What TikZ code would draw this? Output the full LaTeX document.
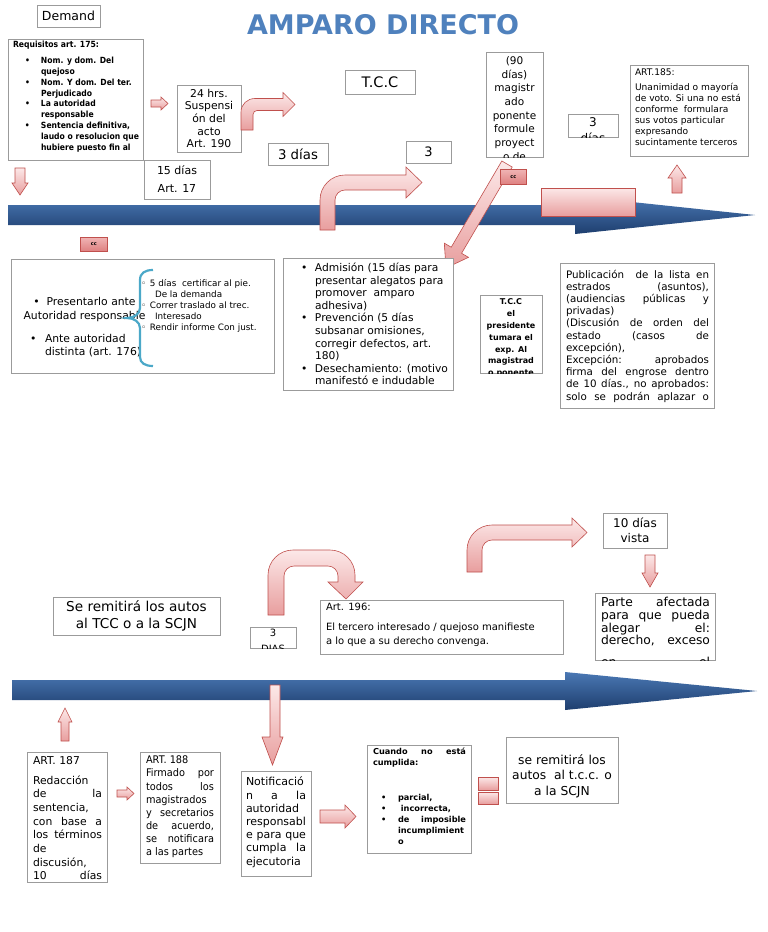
\documentclass[tikz,border=0pt]{standalone}
\usepackage{fontspec}
\setmainfont{DejaVu Sans}
\newfontfamily\condf{DejaVu Sans}[FakeStretch=0.9]
\newfontfamily\semif{DejaVu Sans}[FakeStretch=0.93]
\newcommand\fs[2]{\fontsize{#1}{#2}\selectfont}
\newcommand\jl[2][143pt]{\makebox[#1][s]{#2}}
\newcommand\bl[1]{\makebox[#1][l]{•}}
\newcommand\cl[1]{\makebox[#1][l]{◦}}
\definecolor{tblue}{RGB}{79,129,189}
\definecolor{pborder}{RGB}{192,80,77}
\definecolor{plight}{RGB}{252,232,232}
\definecolor{pdark}{RGB}{232,158,158}
\definecolor{cctop}{RGB}{240,180,180}
\definecolor{ccbot}{RGB}{222,128,128}
\definecolor{bgrey}{RGB}{155,155,155}
\definecolor{bracec}{RGB}{75,168,200}
\definecolor{tltop}{RGB}{74,120,180}
\definecolor{tlbot}{RGB}{30,62,110}
\begin{document}
\begin{tikzpicture}[x=1pt,y=-1pt,
  box/.style={draw=bgrey,line width=0.8pt,fill=white,inner sep=0pt,outer sep=0pt,anchor=north west},
  txt/.style={inner sep=0pt,outer sep=0pt},
  parrow/.style={draw=pborder,line width=0.6pt,top color=plight,bottom color=pdark},
  ccbox/.style={draw=pborder,line width=0.6pt,top color=cctop,bottom color=ccbot,inner sep=0pt,anchor=north west,font=\bfseries\fs{5}{6}},
  tl/.style={top color=tltop,bottom color=tlbot}]
\useasboundingbox (0,0) rectangle (768,932);
\fill[white] (0,0) rectangle (768,932);

% title
\node[txt,font=\bfseries\fs{27}{30},text=tblue] (title) at (383,25) {AMPARO DIRECTO};

% timelines
\path[tl] (8,205) -- (575,205) -- (575,196) -- (755,215) -- (575,234) -- (575,225) -- (8,225) -- cycle;
\path[tl] (12,680) -- (565,680) -- (565,672) -- (757,691) -- (565,710) -- (565,700) -- (12,700) -- cycle;

% ---------- upper section ----------
\node[box,minimum width=63,minimum height=22,font=\fs{12.5}{15}] (demand) at (37,5) {Demand};

\node[box,minimum width=135,minimum height=121] (req) at (8,39) {};
\begin{scope}
\clip (req.north west) rectangle (req.south east);
\node[txt,anchor=north west,align=left,font=\condf\bfseries\fs{8.5}{10.9}] (reqt) at (13,41.5) {Requisitos art. 175:\\[4.5pt]
\hspace*{12pt}\bl{16pt}Nom. y dom. Del\\
\hspace*{28pt}quejoso\\
\hspace*{12pt}\bl{16pt}Nom. Y dom. Del ter.\\
\hspace*{28pt}Perjudicado\\
\hspace*{12pt}\bl{16pt}La autoridad\\
\hspace*{28pt}responsable\\
\hspace*{12pt}\bl{16pt}Sentencia definitiva,\\
\hspace*{28pt}laudo o resolucion que\\
\hspace*{28pt}hubiere puesto fin al};
\end{scope}

\path[parrow] (15,168) -- (25,168) -- (25,183) -- (28,183) -- (20,195) -- (12,183) -- (15,183) -- cycle;
\path[parrow] (151,100) -- (161,100) -- (161,97) -- (168,103.5) -- (161,110) -- (161,107) -- (151,107) -- cycle;

\node[box,minimum width=64,minimum height=67,align=center,font=\fs{10.8}{12.7}] (susp) at (177,85) {24 hrs.\\Suspensi\\ón del\\acto\\Art. 190};

\path[parrow] (241,130) -- (241,112) .. controls (241,104.3) and (247.3,98.5) .. (255,98.5) -- (283,98.5) -- (283,92.5) -- (295,104.5) -- (283,116.5) -- (283,110.5) -- (257,110.5) .. controls (254.8,110.5) and (253,112.3) .. (253,114.5) -- (253,130) -- cycle;

\node[box,minimum width=66,minimum height=39,align=center,font=\fs{11}{18}] (quince) at (144,160) {15 días\\Art. 17};
\node[box,minimum width=70,minimum height=24,font=\fs{14.5}{17}] (tcc) at (345,70) {T.C.C};
\node[box,minimum width=60,minimum height=22,font=\fs{13.3}{16}] (tres) at (268,143) {3 días};
\node[box,minimum width=45,minimum height=22,font=\fs{13}{16}] (tresb) at (406,141) {3};

\path[parrow] (320,230) -- (320,200) .. controls (320,186.2) and (331.2,175) .. (345,175) -- (406,175) -- (406,167) -- (422,182.5) -- (406,198) -- (406,190) -- (345,190) .. controls (339.5,190) and (335,194.5) .. (335,200) -- (335,230) -- cycle;

\node[box,minimum width=57,minimum height=105] (noventa) at (486,52) {};
\begin{scope}
\clip (noventa.north west) rectangle (noventa.south east);
\node[txt,anchor=north,align=center,font=\fs{10.5}{13.7}] (noventat) at (514.5,56.5) {(90\\días)\\magistr\\ado\\ponente\\formule\\proyect\\o de};
\end{scope}

\node[box,minimum width=50,minimum height=23] (tresc) at (568,114) {};
\begin{scope}
\clip (tresc.north west) rectangle (tresc.south east);
\node[txt,anchor=north,align=center,font=\fs{12}{15.6}] (tresct) at (593,118) {3\\días};
\end{scope}

\node[box,minimum width=118,minimum height=91] (art185) at (630,65) {};
\begin{scope}
\clip (art185.north west) rectangle (art185.south east);
\node[txt,anchor=north west,align=left,font=\fs{9.1}{11}] (art185t) at (635,68.5) {ART.185:\\[4pt]Unanimidad o mayoría\\de voto. Si una no está\\conforme \ formulara\\sus votos particular\\expresando\\sucintamente terceros};
\end{scope}

\path[parrow] (672,193) -- (682,193) -- (682,178) -- (686,178) -- (677,165) -- (668,178) -- (672,178) -- cycle;

\path[parrow] (541,188) rectangle (635,216);

\begin{scope}[shift={(507,164)},rotate=239.6]
\path[parrow] (0,-6) -- (100,-6) -- (100,-14) -- (120.6,0) -- (100,14) -- (100,6) -- (0,6) -- cycle;
\end{scope}
\node[ccbox,minimum width=26,minimum height=15] (cc2) at (500,169) {cc};
\node[ccbox,minimum width=27,minimum height=14] (cc1) at (80,237) {cc};

% left box
\node[box,minimum width=263,minimum height=114] (pres) at (11,259) {};
\node[txt,align=center,font=\fs{10.8}{14}] (prest) at (84.5,310) {•\ \ Presentarlo ante\\Autoridad responsable};
\node[txt,anchor=north west,align=left,font=\fs{10.8}{13}] (antet) at (30,334) {\bl{15pt}Ante autoridad\\\hspace*{15pt}distinta (art. 176)};
\draw[bracec,line width=2.2pt] (153,270) .. controls (145,270) and (140,273) .. (140,280) -- (140,308) .. controls (140,314) and (134,318) .. (127,318) .. controls (134,318) and (140,322) .. (140,328) -- (140,357) .. controls (140,363) and (145,366) .. (153,366);
\node[txt,anchor=north west,align=left,font=\fs{8.8}{11.1}] (subt) at (141,279.5) {\cl{9pt}5 días \ certificar al pie.\\\hspace*{14pt}De la demanda\\\cl{9pt}Correr traslado al trec.\\\hspace*{14pt}Interesado\\\cl{9pt}Rendir informe Con just.};

% admision box
\node[box,minimum width=170,minimum height=132] (adm) at (283,258) {};
\begin{scope}
\clip (adm.north west) rectangle (adm.south east);
\node[txt,anchor=north west,align=left,font=\fs{10.7}{12.6}] (admt) at (301,263) {\bl{14pt}Admisión (15 días para\\
\hspace*{14pt}presentar alegatos para\\
\hspace*{14pt}promover \ amparo\\
\hspace*{14pt}adhesiva)\\
\bl{14pt}Prevención (5 días\\
\hspace*{14pt}subsanar omisiones,\\
\hspace*{14pt}corregir defectos, art.\\
\hspace*{14pt}180)\\
\bl{14pt}Desechamiento: (motivo\\
\hspace*{14pt}manifestó e indudable};
\end{scope}

\node[box,minimum width=62,minimum height=78] (pdte) at (480,295) {};
\begin{scope}
\clip (pdte.north west) rectangle (pdte.south east);
\node[txt,anchor=north,align=center,font=\bfseries\fs{8}{11.8}] (pdtet) at (511,299) {T.C.C\\el\\presidente\\tumara el\\exp. Al\\magistrad\\o ponente};
\end{scope}

\node[box,minimum width=154,minimum height=145] (publ) at (560,263) {};
\begin{scope}
\clip (publ.north west) rectangle (publ.south east);
\node[txt,anchor=north west,align=left,font=\fs{10.3}{12.2}] (publt) at (566,269.8) {\jl{Publicación \ de la lista en}\\
\jl{estrados (asuntos),}\\
\jl{(audiencias públicas y}\\
privadas)\\
\jl{(Discusión de orden del}\\
\jl{estado (casos de}\\
excepción),\\
\jl{Excepción: aprobados}\\
\jl{firma del engrose dentro}\\
\jl{de 10 días., no aprobados:}\\
\jl{solo se podrán aplazar o}};
\end{scope}

% ---------- lower section ----------
\path[parrow] (268,615) -- (268,575) .. controls (268,561.2) and (279.2,550) .. (293,550) -- (330,550) .. controls (343.8,550) and (355,561.2) .. (355,575) -- (355,582) -- (363,582) -- (346,599) -- (328,582) -- (338,582) -- (338,576) .. controls (338,570.5) and (333.5,566) .. (328,566) -- (294,566) .. controls (288.5,566) and (284,570.5) .. (284,576) -- (284,615) -- cycle;

\node[box,minimum width=167,minimum height=38,align=center,font=\fs{13.6}{17}] (remit) at (53,597) {Se remitirá los autos\\al TCC o a la SCJN};

\node[box,minimum width=46,minimum height=21] (tresd) at (250,627) {};
\begin{scope}
\clip (tresd.north west) rectangle (tresd.south east);
\node[txt,anchor=north,align=center,font=\fs{10}{15.5}] (tresdt) at (273,629.5) {3\\DIAS};
\end{scope}

\node[box,minimum width=243,minimum height=54] (art196) at (320,600) {};
\node[txt,anchor=north west,align=left,font=\fs{10}{14}] (art196t) at (326,603) {Art. 196:\\[6pt]El tercero interesado / quejoso manifieste\\a lo que a su derecho convenga.};

\path[parrow] (467,572) -- (467,550) .. controls (467,536.2) and (478.2,525) .. (492,525) -- (572,525) -- (572,518) -- (587,532.5) -- (572,547) -- (572,540) -- (492,540) .. controls (486.5,540) and (482,544.5) .. (482,550) -- (482,572) -- cycle;

\node[box,minimum width=64,minimum height=35,align=center,font=\fs{12}{15}] (vista) at (603,513) {10 días\\vista};
\path[parrow] (645,555) -- (655,555) -- (655,573) -- (658,573) -- (650,587) -- (642,573) -- (645,573) -- cycle;

\node[box,minimum width=120,minimum height=67] (parte) at (595,593) {};
\begin{scope}
\clip (parte.north west) rectangle (parte.south east);
\node[txt,anchor=north west,align=left,font=\fs{12.3}{12.6}] (partet) at (601,597.5) {\jl[109pt]{Parte afectada}\\
\jl[109pt]{para que pueda}\\
\jl[109pt]{alegar el:}\\
\jl[109pt]{derecho, exceso}\\[9pt]
\jl[109pt]{en el}};
\end{scope}

\path[parrow] (61,741) -- (69,741) -- (69,722) -- (72,722) -- (65,708) -- (58,722) -- (61,722) -- cycle;
\path[parrow] (270,685) -- (280,685) -- (280,737) -- (283,737) -- (272.5,765) -- (262,737) -- (270,737) -- cycle;

\node[box,minimum width=80,minimum height=130] (art187) at (27,752) {};
\node[txt,anchor=north west,align=left,font=\fs{10.8}{13.7}] (art187t) at (33,756) {ART. 187\\[6.3pt]
Redacción\\
\jl[69pt]{de la}\\
sentencia,\\
\jl[69pt]{con base a}\\
\jl[69pt]{los términos}\\
de\\
discusión,\\
\jl[69pt]{10 días}};

\path[parrow] (117,790) -- (127,790) -- (127,787) -- (134,793.5) -- (127,800) -- (127,797) -- (117,797) -- cycle;

\node[box,minimum width=80,minimum height=111] (art188) at (140,752) {};
\node[txt,anchor=north west,align=left,font=\semif\fs{10.5}{13.1}] (art188t) at (146,756) {ART. 188\\
\jl[68pt]{Firmado por}\\
\jl[68pt]{todos los}\\
magistrados\\
\jl[68pt]{y secretarios}\\
\jl[68pt]{de acuerdo,}\\
\jl[68pt]{se notificara}\\
a las partes};

\node[box,minimum width=70,minimum height=105] (notif) at (241,771) {};
\node[txt,anchor=north west,align=left,font=\fs{11}{13.2}] (notift) at (246,777) {Notificació\\
\jl[60pt]{n a la}\\
autoridad\\
responsabl\\
\jl[60pt]{e para que}\\
\jl[60pt]{cumpla la}\\
ejecutoria};

\path[parrow] (320,810) -- (345,810) -- (345,805) -- (356,816.5) -- (345,828) -- (345,823) -- (320,823) -- cycle;

\node[box,minimum width=104,minimum height=108] (cuando) at (367,745) {};
\node[txt,anchor=north west,align=left,font=\bfseries\fs{8.2}{11}] (cuandot) at (373,748) {\jl[93pt]{Cuando no está}\\
cumplida:\\[24pt]
\hspace*{8pt}\bl{17pt}parcial,\\
\hspace*{8pt}\bl{17pt}\ incorrecta,\\
\hspace*{8pt}\bl{17pt}\jl[68pt]{de imposible}\\
\hspace*{25pt}incumplimient\\
\hspace*{25pt}o};

\path[parrow] (478,777) rectangle (498,790);
\path[parrow] (478,792) rectangle (498,804);

\node[box,minimum width=112,minimum height=66] (remit2) at (506,737) {};
\node[txt,anchor=north,align=center,font=\fs{12.3}{15.5}] (remit2t) at (562,754.5) {se remitirá los\\autos \ al t.c.c. o\\a la SCJN};

\end{tikzpicture}
\end{document}
